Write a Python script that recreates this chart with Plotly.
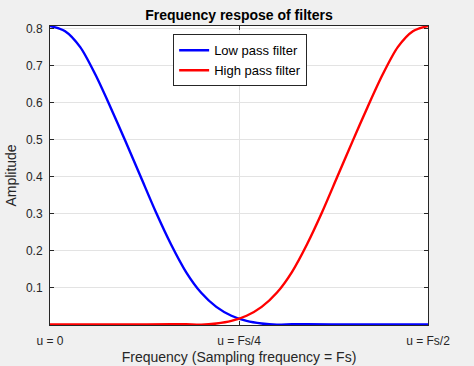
import plotly.graph_objects as go

# Normalised frequency (fraction of Fs)
u_low = [0, 0.02, 0.04, 0.06, 0.08, 0.10, 0.12, 0.14, 0.16, 0.18, 0.20, 0.22, 0.24,
         0.26, 0.28, 0.30, 0.32, 0.34, 0.40, 0.45, 0.50]
amp_low = [0.807, 0.793, 0.750, 0.676, 0.588, 0.495, 0.400, 0.305, 0.218, 0.143, 0.087,
           0.049, 0.025, 0.011, 0.004, 0.001, 0.002, 0.002, 0.0015, 0.0015, 0.0015]

u_high = [0, 0.05, 0.10, 0.16, 0.18, 0.20, 0.22, 0.24, 0.26, 0.28, 0.30, 0.32, 0.34,
          0.36, 0.38, 0.40, 0.42, 0.44, 0.46, 0.48, 0.50]
amp_high = [0.0015, 0.0015, 0.0015, 0.002, 0.002, 0.001, 0.004, 0.011, 0.025, 0.049, 0.087,
            0.143, 0.218, 0.305, 0.400, 0.495, 0.588, 0.676, 0.750, 0.793, 0.807]

x_tickvals = [0, 0.25, 0.5]
x_ticktext = ["u = 0", "u = Fs/4", "u = Fs/2"]
y_tickvals = [0.1, 0.2, 0.3, 0.4, 0.5, 0.6, 0.7, 0.8]
y_ticktext = ["0.1", "0.2", "0.3", "0.4", "0.5", "0.6", "0.7", "0.8"]

FONT = "Liberation Sans, Arial, sans-serif"
AX = "#262626"

fig = go.Figure()
fig.add_trace(go.Scatter(x=u_low, y=amp_low, mode="lines", name="Low pass filter",
                         line=dict(color="#0000ff", width=2.4, shape="spline", smoothing=0.8)))
fig.add_trace(go.Scatter(x=u_high, y=amp_high, mode="lines", name="High pass filter",
                         line=dict(color="#ff0000", width=2.4, shape="spline", smoothing=0.8)))

axis_common = dict(showline=True, linecolor=AX, linewidth=1, mirror="allticks",
                   ticks="inside", ticklen=4, tickcolor=AX, showgrid=True,
                   gridcolor="#e3e3e3", gridwidth=1, zeroline=False, automargin=False,
                   tickfont=dict(family=FONT, size=12, color=AX))

fig.update_xaxes(range=[0, 0.5], tickmode="array", tickvals=x_tickvals, ticktext=x_ticktext,
                 title=dict(text="Frequency (Sampling frequency = Fs)",
                            font=dict(family=FONT, size=14, color=AX), standoff=4),
                 ticklabelstandoff=5, **axis_common)
fig.update_yaxes(range=[0, 0.807], tickmode="array", tickvals=y_tickvals, ticktext=y_ticktext,
                 title=dict(text="Amplitude", font=dict(family=FONT, size=14, color=AX), standoff=6),
                 ticklabelstandoff=4, **axis_common)

fig.update_layout(
    width=474, height=366,
    margin=dict(l=50, r=46, t=26, b=41, autoexpand=False),
    paper_bgcolor="#f0f0f0", plot_bgcolor="#ffffff",
    title=dict(text="<b>Frequency respose of filters</b>", x=0.5, xref="paper",
               xanchor="center", y=1 - 15 / 366, yanchor="middle", automargin=False,
               font=dict(family=FONT, size=14, color="#000000")),
    legend=dict(x=0.503, y=0.972, xanchor="center", yanchor="top",
                bgcolor="#ffffff", bordercolor=AX, borderwidth=1,
                font=dict(family=FONT, size=13, color="#000000"),
                tracegroupgap=0, itemwidth=30),
    showlegend=True,
)

fig.write_html("out.html", config={"displayModeBar": False},
               post_script="document.body.style.margin='0';document.body.style.background='#f0f0f0';")
